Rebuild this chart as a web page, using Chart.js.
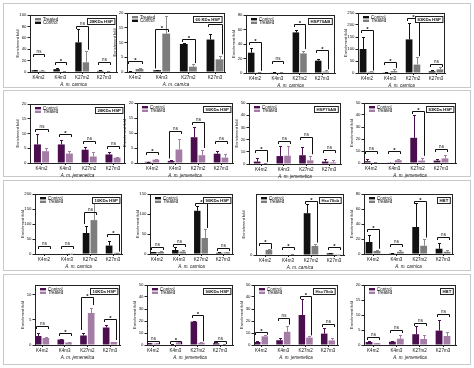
<!DOCTYPE html>
<html><head><meta charset="utf-8">
<script src="https://cdn.jsdelivr.net/npm/chart.js@4.4.1/dist/chart.umd.min.js"></script>
<style>
html,body{margin:0;padding:0;background:#fff;}
#wrap{position:relative;width:474px;height:368px;overflow:hidden;background:#fff;}
.rowbox{position:absolute;border:1px solid #c9c9c9;box-sizing:border-box;}
canvas{position:absolute;}
</style></head><body><div id="wrap"></div>
<script>
const categories = ['K4m2','K4m3','K27m2','K27m3'];
const seriesNames = ['Control','Treated'];
const groupNames = ['A. m. carnica','A. m. jemenetica'];

// ---- Row 1 : A. m. carnica ----
const r1a_control=[3,5,52,2],      r1a_controlSD=[1,2,24,1];
const r1a_treated=[2,1,17,1],      r1a_treatedSD=[2,0.5,20,0.5];
const r1a_bracket=[31,18,80,18],   r1a_legL=[null,null,null,null], r1a_legR=[null,null,39,null];
const r1a_sig=['ns','*','ns','ns'];

const r1b_control=[0.2,0.6,9.5,11], r1b_controlSD=[0.1,0.2,0.3,2];
const r1b_treated=[1.0,13,1.8,4.3], r1b_treatedSD=[0.4,6,0.8,1];
const r1b_bracket=[3.8,14.7,11.3,16.3], r1b_legL=[null,1.2,null,null], r1b_legR=[null,null,3,6];
const r1b_sig=['*','*','*','*'];

const r1c_control=[28,0.5,56,17], r1c_controlSD=[7,0.3,4,3];
const r1c_treated=[1,0.5,27,2],   r1c_treatedSD=[0.5,0.3,4,2];
const r1c_bracket=[43,17,68,32],  r1c_legL=[null,null,null,null], r1c_legR=[3,null,33,5];
const r1c_sig=['*','ns','*','*'];

const r1d_control=[100,3,140,7], r1d_controlSD=[50,2,70,7];
const r1d_treated=[5,8,35,15],   r1d_treatedSD=[2,8,32,8];
const r1d_bracket=[178,45,228,38], r1d_legL=[null,null,null,null], r1d_legR=[10,20,70,null];
const r1d_sig=['*','*','*','ns'];

// ---- Row 2 : A. m. jemenetica ----
const r2a_control=[6.3,6.3,4.5,2.9], r2a_controlSD=[3.7,1.4,1.0,0.8];
const r2a_treated=[4.0,3.2,2.2,1.8], r2a_treatedSD=[1.0,1.0,1.6,0.1];
const r2a_bracket=[11.5,9.9,7.3,5.6], r2a_legL=[null,null,null,null], r2a_legR=[null,null,null,null];
const r2a_sig=['ns','*','ns','ns'];

const r2b_control=[0.4,0.7,8.6,3.1], r2b_controlSD=[0.1,0.4,3.4,0.8];
const r2b_treated=[1.1,4.5,2.6,1.8], r2b_treatedSD=[0.2,3.5,1.7,1.2];
const r2b_bracket=[3.6,10.7,13.7,7.3], r2b_legL=[null,1.5,null,null], r2b_legR=[null,null,5,null];
const r2b_sig=['*','ns','ns','ns'];

const r2c_control=[2,6.5,7.2,2],   r2c_controlSD=[3,8.5,6.8,2];
const r2c_treated=[0.3,6.8,3,1.3], r2c_treatedSD=[0.2,8.2,3.5,2];
const r2c_bracket=[11.7,19,21.8,11.7], r2c_legL=[null,null,null,null], r2c_legR=[1.5,null,8,null];
const r2c_sig=['*','ns','ns','ns'];

const r2d_control=[1.5,0.3,21,2], r2d_controlSD=[1.5,0.1,19,1.5];
const r2d_treated=[0.5,2.3,2,3.8], r2d_treatedSD=[0.3,0.7,2,2.7];
const r2d_bracket=[10.4,10.4,43,11.7], r2d_legL=[null,null,null,null], r2d_legR=[null,null,6,null];
const r2d_sig=['ns','*','*','ns'];

// ---- Row 3 : A. m. carnica ----
const r3a_control=[0,0,70,28], r3a_controlSD=[0,0,25,16];
const r3a_treated=[0,1,113,4], r3a_treatedSD=[0,0.5,57,1];
const r3a_bracket=[26,26,139,67], r3a_legL=[null,null,100,null], r3a_legR=[null,null,null,8];
const r3a_sig=['ns','ns','ns','*'];

const r3b_control=[5,10,108,3], r3b_controlSD=[1,7,12,1];
const r3b_treated=[5,6,40,4],   r3b_treatedSD=[2,4,22,2];
const r3b_bracket=[18,26,128,14], r3b_legL=[null,null,null,null], r3b_legR=[null,null,65,null];
const r3b_sig=['ns','ns','*','ns'];

const r3c_control=[0,0,3700,150], r3c_controlSD=[0,0,800,30];
const r3c_treated=[450,50,800,20], r3c_treatedSD=[60,20,200,10];
const r3c_bracket=[1040,740,4740,740], r3c_legL=[null,null,null,null], r3c_legR=[520,null,1100,null];
const r3c_sig=['*','*','*','*'];

const r3d_control=[16,1,36,7], r3d_controlSD=[9,0.5,32,8];
const r3d_treated=[4,3,11,3],  r3d_treatedSD=[2,2,9,3];
const r3d_bracket=[34,14,71,23], r3d_legL=[null,null,null,null], r3d_legR=[7,null,22,null];
const r3d_sig=['*','ns','*','ns'];

// ---- Row 4 : A. m. jemenetica ----
const r4a_control=[1.8,1.1,1.9,3.5], r4a_controlSD=[0.6,0.1,0.6,0.6];
const r4a_treated=[1.4,0.5,6.4,0.6], r4a_treatedSD=[0.3,0.1,1.0,0.1];
const r4a_bracket=[3.9,2.4,9.7,5.2], r4a_legL=[null,null,3,null], r4a_legR=[null,null,8,1];
const r4a_sig=['ns','*','*','*'];

const r4b_control=[1.5,0.4,19.5,1.4], r4b_controlSD=[0.5,0.2,0.8,1.3];
const r4b_treated=[1.2,2.2,1.8,0.5],  r4b_treatedSD=[0.5,0.6,0.3,0.2];
const r4b_bracket=[3.7,3.7,24.7,3.7], r4b_legL=[null,null,null,null], r4b_legR=[null,null,3,null];
const r4b_sig=['ns','*','*','ns'];

const r4c_control=[2.5,4,25,9.5], r4c_controlSD=[1.2,2,13,4.5];
const r4c_treated=[7.2,11,6.2,3.8], r4c_treatedSD=[0.8,5,1.3,2];
const r4c_bracket=[10.7,22.5,40.5,17.8], r4c_legL=[null,null,null,null], r4c_legR=[8.5,17,8,null];
const r4c_sig=['*','ns','*','ns'];

const r4d_control=[1,1.1,3.6,4.8], r4d_controlSD=[0.3,0.3,2.6,3.5];
const r4d_treated=[0.6,2.1,2,3],   r4d_treatedSD=[0.2,1.4,1.2,1.5];
const r4d_bracket=[2.6,4.9,7.5,10.2], r4d_legL=[null,null,null,null], r4d_legR=[null,null,null,null];
const r4d_sig=['ns','ns','ns','ns'];

// y-axis ranges (max, tick step) and panel titles
const yMax  = {r1a:100,r1b:20,r1c:80,r1d:250, r2a:20,r2b:20,r2c:50,r2d:50, r3a:200,r3b:150,r3c:5400,r3d:80, r4a:12,r4b:50,r4c:50,r4d:20};
const yStep = {r1a:20,r1b:5,r1c:20,r1d:50, r2a:5,r2b:5,r2c:10,r2d:10, r3a:50,r3b:50,r3c:2000,r3d:20, r4a:5,r4b:10,r4c:10,r4d:5};
const titles= {r1a:'28KDa HSP',r1b:'60 KDa HSP',r1c:'HSP70AB',r1d:'83KDa HSP',
               r2a:'28KDa HSP',r2b:'90KDa HSP',r2c:'HSP70AB',r2d:'83KDa HSP',
               r3a:'10KDa HSP',r3b:'90KDa HSP',r3c:'Hsc70cb',r3d:'HBT',
               r4a:'10KDa HSP',r4b:'90KDa HSP',r4c:'Hsc70cb',r4d:'HBT'};

const panelData = {
 r1a:[r1a_control,r1a_controlSD,r1a_treated,r1a_treatedSD,r1a_bracket,r1a_legL,r1a_legR,r1a_sig],
 r1b:[r1b_control,r1b_controlSD,r1b_treated,r1b_treatedSD,r1b_bracket,r1b_legL,r1b_legR,r1b_sig],
 r1c:[r1c_control,r1c_controlSD,r1c_treated,r1c_treatedSD,r1c_bracket,r1c_legL,r1c_legR,r1c_sig],
 r1d:[r1d_control,r1d_controlSD,r1d_treated,r1d_treatedSD,r1d_bracket,r1d_legL,r1d_legR,r1d_sig],
 r2a:[r2a_control,r2a_controlSD,r2a_treated,r2a_treatedSD,r2a_bracket,r2a_legL,r2a_legR,r2a_sig],
 r2b:[r2b_control,r2b_controlSD,r2b_treated,r2b_treatedSD,r2b_bracket,r2b_legL,r2b_legR,r2b_sig],
 r2c:[r2c_control,r2c_controlSD,r2c_treated,r2c_treatedSD,r2c_bracket,r2c_legL,r2c_legR,r2c_sig],
 r2d:[r2d_control,r2d_controlSD,r2d_treated,r2d_treatedSD,r2d_bracket,r2d_legL,r2d_legR,r2d_sig],
 r3a:[r3a_control,r3a_controlSD,r3a_treated,r3a_treatedSD,r3a_bracket,r3a_legL,r3a_legR,r3a_sig],
 r3b:[r3b_control,r3b_controlSD,r3b_treated,r3b_treatedSD,r3b_bracket,r3b_legL,r3b_legR,r3b_sig],
 r3c:[r3c_control,r3c_controlSD,r3c_treated,r3c_treatedSD,r3c_bracket,r3c_legL,r3c_legR,r3c_sig],
 r3d:[r3d_control,r3d_controlSD,r3d_treated,r3d_treatedSD,r3d_bracket,r3d_legL,r3d_legR,r3d_sig],
 r4a:[r4a_control,r4a_controlSD,r4a_treated,r4a_treatedSD,r4a_bracket,r4a_legL,r4a_legR,r4a_sig],
 r4b:[r4b_control,r4b_controlSD,r4b_treated,r4b_treatedSD,r4b_bracket,r4b_legL,r4b_legR,r4b_sig],
 r4c:[r4c_control,r4c_controlSD,r4c_treated,r4c_treatedSD,r4c_bracket,r4c_legL,r4c_legR,r4c_sig],
 r4d:[r4d_control,r4d_controlSD,r4d_treated,r4d_treatedSD,r4d_bracket,r4d_legL,r4d_legR,r4d_sig]
};

// ---------- layout & style (not data) ----------
const palettes = {
  bw:  {c:'#111111', t:'#7d7d7d', ce:'#111111', te:'#8c8c8c'},
  pu:  {c:'#4b0f50', t:'#a47ca6', ce:'#4b0f50', te:'#a47ca6'}
};
const rowBoxes=[[3,3,468,85],[3,90,468,87],[3,180,468,91],[3,274,468,91]];
const layoutOf = {
 r1a:[30,15,117,72,38.5,104], r1b:[127,13,225,72,135,215], r1c:[246,15,335,73,255,322], r1d:[358,13,445,73,367,436],
 r2a:[30,104,125,163,41.5,113], r2b:[137,103,233,163,152,221], r2c:[249,103,341,164,261,329], r2d:[364,103,456,163,371,441],
 r3a:[35,194,122,254,44,113], r3b:[150,194,233,254,157,223], r3c:[256,194,344,255,265,334], r3d:[364,194,453,254,373,443],
 r4a:[35,285,120,345,42,110], r4b:[147,285,233,345,153,220], r4c:[254,285,338,345,261,328], r4d:[364,285,456,345,373,443]
};
const FONT = '"Liberation Sans", Arial, sans-serif';

const wrap = document.getElementById('wrap');
rowBoxes.forEach(b=>{
  const d=document.createElement('div'); d.className='rowbox';
  d.style.left=b[0]+'px'; d.style.top=b[1]+'px'; d.style.width=b[2]+'px'; d.style.height=b[3]+'px';
  wrap.appendChild(d);
});

function makeOverlay(id, pal, legendOrder){
  const pd=panelData[id];
  const br=pd[4], lL=pd[5], lR=pd[6], sg=pd[7];
  return {
    id:'overlay_'+id,
    afterDatasetsDraw(chart){
      const ctx=chart.ctx, ys=chart.scales.y, a=chart.chartArea;
      ctx.save();
      // frame
      ctx.strokeStyle='#222'; ctx.lineWidth=1;
      ctx.strokeRect(Math.round(a.left)+0.5, Math.round(a.top)+0.5, Math.round(a.right-a.left)-1, Math.round(a.bottom-a.top));
      // error bars
      chart.data.datasets.forEach((ds,di)=>{
        const meta=chart.getDatasetMeta(di);
        meta.data.forEach((bar,i)=>{
          const sd=ds.sd[i]; if(!sd) return;
          const v=ds.data[i].y;
          const yt=Math.round(ys.getPixelForValue(v+sd))+0.5, yb=ys.getPixelForValue(v);
          const x=Math.round(bar.x)+0.5;
          ctx.strokeStyle=ds.errColor; ctx.lineWidth=1;
          ctx.beginPath(); ctx.moveTo(x,yb); ctx.lineTo(x,yt);
          ctx.moveTo(x-1.5,yt); ctx.lineTo(x+1.5,yt); ctx.stroke();
        });
      });
      // brackets
      const m0=chart.getDatasetMeta(0), m1=chart.getDatasetMeta(1);
      ctx.strokeStyle='#111'; ctx.fillStyle='#111'; ctx.lineWidth=1;
      categories.forEach((c,i)=>{
        const x0=Math.round(m0.data[i].x-2)+0.5, x1=Math.round(m1.data[i].x+2)+0.5;
        const by=Math.round(ys.getPixelForValue(br[i]))+0.5;
        const ly0 = lL[i]==null ? by+2.5 : ys.getPixelForValue(lL[i]);
        const ly1 = lR[i]==null ? by+2.5 : ys.getPixelForValue(lR[i]);
        ctx.beginPath(); ctx.moveTo(x0,ly0); ctx.lineTo(x0,by); ctx.lineTo(x1,by); ctx.lineTo(x1,ly1); ctx.stroke();
        ctx.textAlign='center'; ctx.textBaseline='alphabetic';
        if(sg[i]==='*'){ ctx.font='bold 6px '+FONT; ctx.fillText('*',(x0+x1)/2,by+0.5); }
        else { ctx.font='4.5px '+FONT; ctx.fillText(sg[i],(x0+x1)/2,by-1.5); }
      });
      // legend (top-left)
      ctx.textAlign='left'; ctx.textBaseline='middle'; ctx.font='4.5px '+FONT;
      legendOrder.forEach((k,j)=>{
        const yy=a.top+4+j*3.6;
        ctx.fillStyle = k==='C'?pal.c:pal.t;
        ctx.fillRect(a.left+5, yy-1, 6, 2.4);
        ctx.fillStyle='#111';
        ctx.fillText(k==='C'?seriesNames[0]:seriesNames[1], a.left+13, yy+0.3);
      });
      // title box (top-right)
      ctx.font='bold 4.3px '+FONT;
      const t=titles[id], tw=ctx.measureText(t).width+4, th=6;
      const bx=Math.round(a.right-3-tw)+0.5, byy=Math.round(a.top+3)+0.5;
      ctx.fillStyle='#fff'; ctx.fillRect(bx,byy,tw,th);
      ctx.strokeStyle='#222'; ctx.strokeRect(bx,byy,tw,th);
      ctx.fillStyle='#111'; ctx.textAlign='center'; ctx.textBaseline='middle';
      ctx.fillText(t,bx+tw/2,byy+th/2+0.3);
      ctx.restore();
    }
  };
}

Object.keys(panelData).forEach(id=>{
  const row=+id[1];
  const pal = (row===1||row===3) ? palettes.bw : palettes.pu;
  const group = (row===1||row===3) ? groupNames[0] : groupNames[1];
  const legendOrder = (id==='r1a'||id==='r1b') ? ['T','C'] : ['C','T'];
  const [L,T,R,B,c0,c3]=layoutOf[id];
  const u=(c3-c0)/3, xmin=-(c0-L)/u, xmax=3+(R-c3)/u;
  const cv=document.createElement('canvas');
  const W=R-L+20, H=B-T+20;
  cv.width=W; cv.height=H; cv.style.width=W+'px'; cv.style.height=H+'px';
  cv.style.left=(L-16)+'px'; cv.style.top=(T-4)+'px';
  wrap.appendChild(cv);
  const pd=panelData[id];
  const C=pd[0], Cs=pd[1], Tr=pd[2], Ts=pd[3];
  const step=yStep[id];
  new Chart(cv,{
    type:'bar',
    data:{datasets:[
      {label:seriesNames[0], data:C.map((v,i)=>({x:i,y:v})), sd:Cs, backgroundColor:pal.c, errColor:pal.ce,
       categoryPercentage:0.68, barPercentage:0.86},
      {label:seriesNames[1], data:Tr.map((v,i)=>({x:i,y:v})), sd:Ts, backgroundColor:pal.t, errColor:pal.te,
       categoryPercentage:0.68, barPercentage:0.86}
    ]},
    options:{
      responsive:false, animation:false, devicePixelRatio:1,
      layout:{padding:{left:1,top:4,right:4,bottom:1}},
      plugins:{legend:{display:false}, tooltip:{enabled:false}},
      scales:{
        x:{type:'linear', min:xmin, max:xmax, offset:false,
           grid:{display:true, drawOnChartArea:false, offset:false, tickLength:2, color:'#222'},
           border:{color:'#222', width:1},
           afterBuildTicks:s=>{ s.ticks=categories.map((c,i)=>({value:i})); },
           afterFit:s=>{ s.height=15; },
           ticks:{autoSkip:false, maxRotation:0, padding:1, color:'#111', font:{size:4.5, family:FONT},
                  callback:v=>categories[v]??''},
           title:{display:true, text:group, color:'#111', padding:0, font:{size:4.5, style:'italic', family:FONT}}},
        y:{min:0, max:yMax[id],
           grid:{display:true, drawOnChartArea:false, tickLength:2.5, color:'#222'},
           border:{color:'#222', width:1},
           afterBuildTicks:s=>{ s.ticks=s.ticks.filter(t=>Math.abs(t.value/step-Math.round(t.value/step))<1e-6); },
           afterFit:s=>{ s.width=15; },
           ticks:{stepSize:step, padding:1, color:'#111', font:{size:4.3, family:FONT}},
           title:{display:true, text:'Enrichment fold', color:'#111', padding:0, font:{size:4, family:FONT}}}
      }
    },
    plugins:[makeOverlay(id,pal,legendOrder)]
  });
});
</script></body></html>
